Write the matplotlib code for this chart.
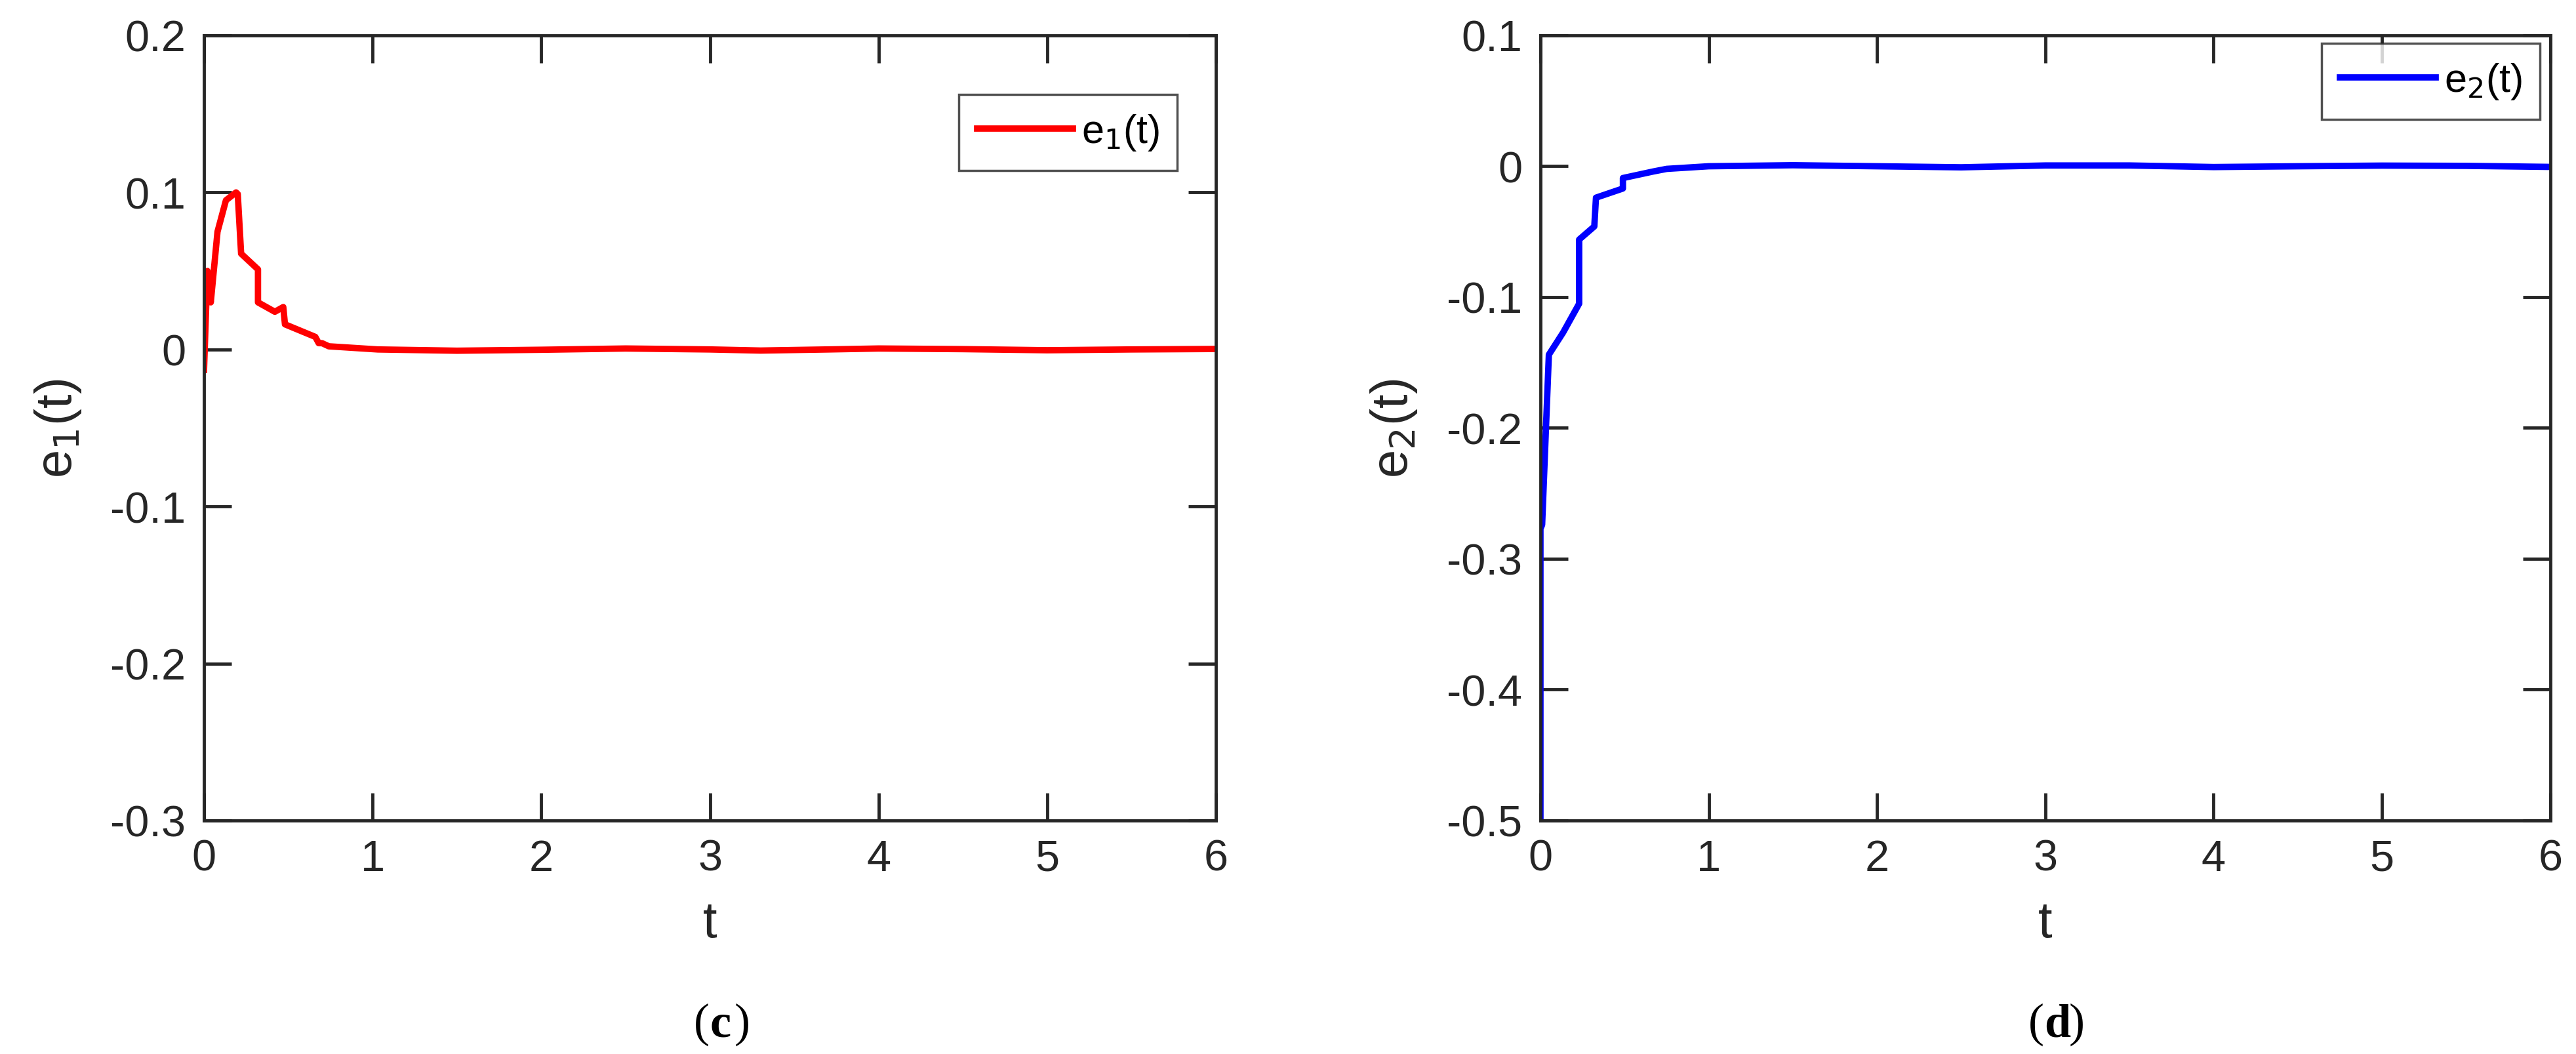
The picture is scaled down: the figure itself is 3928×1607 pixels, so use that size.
import matplotlib
matplotlib.use("Agg")
import matplotlib.pyplot as plt

t1 = [0, 0.02, 0.04, 0.08, 0.13, 0.19, 0.2, 0.22, 0.32, 0.32, 0.42, 0.47, 0.48, 0.66, 0.68, 0.7, 0.74, 1.03,
      1.5, 2.0, 2.5, 3.0, 3.3, 3.7, 4.0, 4.5, 5.0, 5.5, 6.0]
e1 = [-0.013, 0.05, 0.03, 0.075, 0.095, 0.1, 0.099, 0.061, 0.051, 0.030, 0.024, 0.027, 0.016, 0.008, 0.004, 0.004, 0.002, 0.0,
      -0.0008, -0.0002, 0.0006, 0.0, -0.0007, 0.0, 0.0006, 0.0002, -0.0005, 0.0, 0.0003]
t2 = [0, 0.0, 0.01, 0.05, 0.135, 0.23, 0.23, 0.32, 0.33, 0.49, 0.49, 0.67, 0.75, 1.0,
      1.5, 2.0, 2.5, 3.0, 3.5, 4.0, 4.5, 5.0, 5.5, 6.0]
e2 = [-0.5, -0.277, -0.274, -0.144, -0.127, -0.105, -0.056, -0.046, -0.024, -0.017, -0.009, -0.004, -0.002, 0.0,
      0.0008, 0.0, -0.0008, 0.0006, 0.0006, -0.0006, 0.0, 0.0005, 0.0003, -0.0005]

plt.rcParams['font.family'] = ['Liberation Sans', 'DejaVu Sans']
fig = plt.figure(figsize=(39.28, 16.08), dpi=100)

def setup(ax, ylim, yticks, ylabel_sub):
    ax.set_xlim(0, 6)
    ax.set_ylim(*ylim)
    ax.set_xticks(range(7))
    ax.set_yticks(yticks)
    ax.set_yticklabels([('0' if abs(v) < 1e-9 else ('%g' % v)) for v in yticks])
    ax.tick_params(direction='in', top=True, right=True, length=30, width=3.5, labelsize=48, pad=20, colors='#262626')
    for s in ax.spines.values():
        s.set_linewidth(3.5)
        s.set_color('#262626')
    ax.set_xlabel('t', fontsize=56, color='#262626', labelpad=22)
    ax.set_ylabel('e$_%s$(t)' % ylabel_sub, fontsize=56, color='#262626', labelpad=30)

ax1 = fig.add_axes([0.0792, 0.2214, 0.3928, 0.7444])
ax1.plot(t1, e1, color='red', lw=7, label='e$_1$(t)')
setup(ax1, (-0.3, 0.2), [-0.3, -0.2, -0.1, 0, 0.1, 0.2], '1')
ax1.legend(loc='upper right', bbox_to_anchor=(0.962, 0.925), fontsize=44, frameon=True, fancybox=False,
           edgecolor='#262626', handlelength=2.4, handletextpad=0.2, borderpad=0.45, borderaxespad=0).get_frame().set_linewidth(2.5)

ax2 = fig.add_axes([0.598, 0.2214, 0.392, 0.7444])
ax2.plot(t2, e2, color='blue', lw=7, label='e$_2$(t)')
setup(ax2, (-0.5, 0.1), [-0.5, -0.4, -0.3, -0.2, -0.1, 0, 0.1], '2')
ax2.legend(loc='upper right', bbox_to_anchor=(0.99, 0.99), fontsize=44, frameon=True, fancybox=False,
           edgecolor='#262626', handlelength=2.4, handletextpad=0.2, borderpad=0.45, borderaxespad=0).get_frame().set_linewidth(2.5)

for x, s in [(0.2755, 'c'), (0.7935, 'd')]:
    fig.text(x, 0.008, '(', fontsize=52, family='Liberation Serif', ha='right', va='bottom')
    fig.text(x, 0.008, s, fontsize=52, family='Liberation Serif', weight='bold', ha='left', va='bottom')
    fig.text(x + 0.0095, 0.008, ')', fontsize=52, family='Liberation Serif', ha='left', va='bottom')

fig.savefig('out.png', dpi=100, facecolor='white')
